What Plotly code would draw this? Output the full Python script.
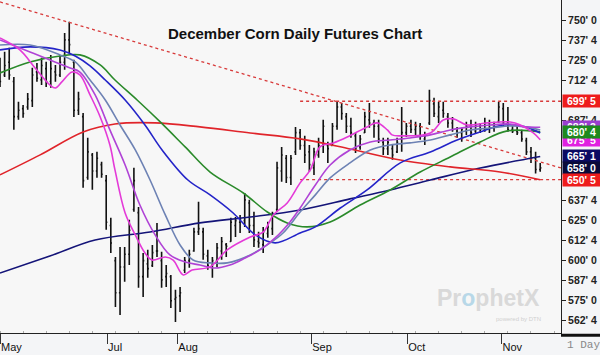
import plotly.graph_objects as go

# ---------------- data (cents, eighths shown as ') ----------------
bar_index = list(range(118))

opens = [720,716,724,712,690,695,696,700,718,713,720,712,718,716,724,738,724,694,690,652,
         666,656,660,650,622,600,580,596,604,632,630,590,598,597,606,600,590,590,576,578,
         594,600,606,618,618,603,597,600,606,610,612,622,624,625,636,622,612,610,617,620,
         632,656,664,652,668,680,672,668,658,666,672,672,672,684,696,690,684,678,671,680,
         688,686,684,674,670,670,668,676,680,684,682,684,676,686,698,690,694,690,686,681,
         680,681,684,681,684,682,686,683,687,695,686,682,681,680,675,668,664,657]
highs = [726.75,730.5,733,714.75,699.25,697.25,704.75,720.5,723.5,726.75,724.25,728.5,722.25,728.5,742.25,749.25,725.5,705.5,692.25,676.75,
         667.25,668,661.75,653.5,626.75,602.25,608.5,608.5,625.5,658,633.5,604.75,606.75,609.75,623.5,605.5,597.25,591,581.75,583.5,
         602.25,606.75,620.5,636.75,620.5,606.75,602.25,611,614.75,611,626.75,627.25,628.5,642.25,638,630.5,618,621,624.25,630.5,
         661.75,671,666,666,683.5,682.25,678,672.25,670.5,676.75,688,674.25,686,699.25,698.5,692.25,689.25,679.75,678.5,693,
         698.5,688,688,676.75,676.75,672.25,676.75,696,686,688,686.75,686,680.5,706.75,701.75,699.25,699.25,692.25,689.75,683.5,
         683,686.75,688,686.75,686,689.25,688,686.75,699.25,698.5,696,684.75,684.75,681.75,676.75,671,668,661]
lows = [708.5,714.75,713,681.75,688,689.25,694.25,696,711.75,709.75,708.5,708,711.75,714.75,719.25,729.75,689.75,691,645.5,650.5,
        644.25,651.75,651.75,619.25,604.75,571,566,586.75,597.25,630.5,583,577.25,589.25,596,602.25,583,583.5,570.5,561.75,568,
        592.25,595.5,605.5,616,600.5,594.25,589.25,596,600.5,602.25,611.75,614.75,617.25,621,617.25,608.5,608,604.75,614.25,616,
        630.5,649.25,648.5,647.25,666,669.25,661,655.5,653.5,664.25,667.25,661,672.25,681.75,688,679.75,676.75,667.25,669.25,679.75,
        683,676.75,673.5,666,666,663,667.25,668,677.25,679.75,678.5,675.5,672.25,684.75,689.75,686,689.25,683,680.5,676.75,
        674.25,678.5,677.25,679.75,679.75,680.5,679.75,680.5,686,683.5,680.5,679.75,678.5,674.25,666,661,654.5,655.5]
closes = [712,722,716,690,694,692,701,716,714,722,712,720,716,724,738,735,694,701,650,668,
          656,664,654,624,611,580,596,604,619,650,590,600,595,605,606,588,592,575,577,580,
          600,604,618,620,604,597,600,608,612,609,624,625,626,638,622,613,611,618,621,628,
          658,666,652,664,680,672,666,660,668,672,684,670,684,696,692,684,680,670,676,690,
          686,684,676,670,674,666,674,680,684,682,684,678,678,700,692,696,692,686,682,680,
          682,684,680,684,682,686,683,685,696,686,682,681,680,676,668,664,657,658]

# moving averages: (bar position, price)
ma_pink_x = [0,4.3,7.6,10.8,12,13.4,15.6,17.3,19.5,21.7,23.8,24.9,27.1,29.3,31.4,32.9,35.8,37.5,39.7,41.6,45.5,49.2,54.2,57,59.2,62.2,65,67.2,69.3,72.2,75.2,79.5,81.7,83.9,84.9,86.7,93.2,96,98.2,101.2,105.5,110.5,112.7,115.5,117]
ma_pink_y = [739.2,731.7,720.4,709.8,707.9,711.7,717.9,716.1,703.6,689.8,672.3,656.7,629.8,616.1,604.8,600.4,602.3,600.4,591.1,594.2,596.1,606.7,614.8,617.9,628.6,636.1,648.6,656.7,671.1,673.6,677.3,683.6,686.1,681.7,678.6,678,679.8,687.9,688.6,684.8,686.1,686.7,684.8,679.8,675.6]

ma_violet_x = [0,6.5,11.9,15.2,17.3,20.6,23.8,27.1,30.3,33.6,36.8,40.1,43.3,46.6,49.8,53.1,56.3,59.6,62.8,65,68.3,71.5,75.8,80.2,84.5,88.8,93.2,97.5,101.8,106.2,110.5,113.8,117]
ma_violet_y = [737.9,730.4,724.2,720.4,717.9,703.6,681.7,659.8,634.8,616.1,603.6,599.2,597.3,595.4,597.3,601.7,606.7,614.2,624.2,632.9,647.3,659.8,669.2,674.2,675.4,676.7,678.6,681.7,683.6,684.8,685.4,683.6,683.4]

ma_slate_x = [0,6.5,13,16.3,19.5,22.8,26,29.3,32.5,35.8,39,41.8,45.5,49.2,54.2,58.5,61.3,65,68.3,71.5,75.8,80.2,84.5,88.8,93.2,97.5,101.8,106.2,110.5,113.8,117]
ma_slate_y = [734.8,734.8,728.6,724.2,712.9,700.4,684.8,669.2,650.4,628.6,609.8,600.4,598.6,598.6,603.6,611.1,617.3,630.4,641.1,651.7,661.1,669.2,672.3,673.6,675.4,678.6,681.7,682.9,684.2,683.6,681.7]

ma_blue_x = [0,6.5,13,16.3,19.5,22.8,27.1,31.4,35.1,40.7,45.5,50.5,55.3,59.6,65,68.3,73.7,79.5,86.7,93.2,99,104,109,113.8,117]
ma_blue_y = [731.7,733.6,731.7,727.9,721.7,712.9,700.4,684.8,669.2,650.4,641.1,629.8,616.1,611.1,617.3,621.1,632.9,644.2,661.1,667.9,675.4,680.4,684.8,683.6,679.8]

ma_green_x = [0,6.5,13,17.3,21.7,24.9,29.7,34.7,40.1,45.5,52.7,57.9,62.2,66.5,71.5,78,84.5,91,97.5,104,109.9,117]
ma_green_y = [717.3,724.2,727.9,728.6,722.3,712.9,700.4,686.7,671.1,655.4,642.3,630.4,623.6,621.1,624.2,634.8,644.2,655.4,664.8,674.2,681.1,680.5]

ma_red_x = [0,8.7,18,24.9,33.6,43.3,54.2,65,75.8,86.7,97.5,108.3,117]
ma_red_y = [653.6,666.1,680.4,685.4,686.1,683.6,679.8,676.1,669.8,662.9,658.6,655.4,650.6]

ma_navy_x = [0,10.8,20.6,32.5,43.3,54.2,65,75.8,84.5,93.2,104,117]
ma_navy_y = [592.3,602.9,612.9,617.9,623.6,627.3,631.7,638.6,644.2,650.4,657.9,665.1]

# drawn studies
trend_x = [0, 121.5]
trend_y = [761.7, 657.9]
channel_x = [65, 121.5]
resistance = 699.625
support = 650.625

shown_ticks = [562.5, 575, 587.5, 600, 612.5, 625, 637.5, 687.5, 712.5, 725, 737.5, 750]

month_pos = [0, 23.2, 38.4, 67.4, 88.2, 108.6]
month_lbl = ["May", "Jul", "Aug", "Sep", "Oct", "Nov"]

last_labels = [  # (value, text, colour)
    (683.4, "683' 3", "#9a3fd0"),
    (675.625, "675' 5", "#e020e0"),
    (680.5, "680' 4", "#1e8a1e"),
    (699.625, "699' 5", "#ee1c1c"),
    (665.125, "665' 1", "#0b0b62"),
    (658.0, "658' 0", "#0a0a3a"),
    (650.625, "650' 5", "#ee1c1c"),
]


def fmt(v):
    whole = int(v)
    eighth = int(round((v - whole) * 8))
    return f"{whole}' {eighth}"


fig = go.Figure()

dot = dict(color="#d83a3a", width=1.3, dash="dot")
fig.add_trace(go.Scatter(x=trend_x, y=trend_y, mode="lines", line=dot))
fig.add_trace(go.Scatter(x=channel_x, y=[resistance, resistance], mode="lines", line=dot))
fig.add_trace(go.Scatter(x=channel_x, y=[support, support], mode="lines", line=dot))

mas = [
    (ma_navy_x, ma_navy_y, "#141478"),
    (ma_red_x, ma_red_y, "#e0242a"),
    (ma_green_x, ma_green_y, "#2a8a2a"),
    (ma_blue_x, ma_blue_y, "#2424c8"),
    (ma_slate_x, ma_slate_y, "#6d82b4"),
    (ma_violet_x, ma_violet_y, "#b043d6"),
    (ma_pink_x, ma_pink_y, "#e43ad8"),
]
for xs, ys, c in mas:
    fig.add_trace(go.Scatter(x=xs, y=ys, mode="lines",
                             line=dict(color=c, width=1.6, shape="spline", smoothing=1.0)))

fig.add_trace(go.Ohlc(x=bar_index, open=opens, high=highs, low=lows, close=closes,
                      increasing=dict(line=dict(color="#111111", width=1.6)),
                      decreasing=dict(line=dict(color="#111111", width=1.6)),
                      tickwidth=0.25))

annotations = []
for v, t, c in last_labels:
    annotations.append(dict(xref="paper", yref="y", x=1.0, y=v, xanchor="left", yanchor="middle",
                            xshift=1, text=f"<b>{t}</b>", showarrow=False, bgcolor=c,
                            font=dict(family="Liberation Sans, Arial", size=10.5, color="white"),
                            width=35, height=10, borderpad=1, align="center"))

annotations.append(dict(xref="paper", yref="paper", x=0.525, y=0.9, xanchor="center", yanchor="middle",
                        text="<b>December Corn Daily Futures Chart</b>", showarrow=False,
                        font=dict(family="Liberation Sans, Arial", size=15, color="#111111")))
annotations.append(dict(xref="paper", yref="paper", x=0.87, y=0.105, xanchor="center", yanchor="middle",
                        text="<b>Pr<span style='color:#b8d8e8'>o</span>phetX</b>", showarrow=False,
                        font=dict(family="Liberation Sans, Arial", size=23, color="#d9d9d9")))
annotations.append(dict(xref="paper", yref="paper", x=0.925, y=0.042, xanchor="center", yanchor="middle",
                        text="powered by DTN", showarrow=False,
                        font=dict(family="Liberation Sans, Arial", size=6, color="#d0d0d0")))
annotations.append(dict(xref="paper", yref="paper", x=1.0, y=-0.012, xanchor="left", yanchor="top",
                        xshift=4, text="1 Day", showarrow=False,
                        font=dict(family="Liberation Mono, Courier New", size=11, color="#888888")))

fig.update_layout(
    width=600, height=355,
    margin=dict(l=0, r=39, t=0, b=22),
    paper_bgcolor="#f4f5f7",
    plot_bgcolor="#f7f7f7",
    showlegend=False,
    hovermode=False,
    annotations=annotations,
    shapes=[dict(type="line", xref="paper", yref="paper", x0=1.0, x1=1.07, y0=-0.007, y1=-0.007,
                 line=dict(color="#111111", width=3))],
    xaxis=dict(range=[0, 121.5], showgrid=False, zeroline=False, rangeslider=dict(visible=False),
               tickmode="array", tickvals=month_pos, ticktext=month_lbl,
               ticks="outside", ticklen=10, tickcolor="#333333", tickwidth=1,
               ticklabelposition="outside right", ticklabelstandoff=4,
               showline=True, linecolor="#222222", linewidth=1, mirror=False,
               tickfont=dict(family="Liberation Sans, Arial", size=11, color="#111111"),
               minor=dict(tickmode="linear", tick0=0, dtick=5, ticks="inside", ticklen=2, tickcolor="#aaaaaa")),
    yaxis=dict(range=[554.8, 762.9], side="right", showgrid=False, zeroline=False,
               tickmode="array", tickvals=shown_ticks, ticktext=[f"<b>{fmt(v)}</b>" for v in shown_ticks],
               ticks="outside", ticklen=4, tickcolor="#222222",
               showline=True, linecolor="#222222", linewidth=1,
               tickfont=dict(family="Liberation Sans, Arial", size=10.5, color="#222222")),
)

fig.write_html("out.html", config={"displayModeBar": False, "staticPlot": True},
               post_script="document.body.style.margin='0';document.body.style.overflow='hidden';")
